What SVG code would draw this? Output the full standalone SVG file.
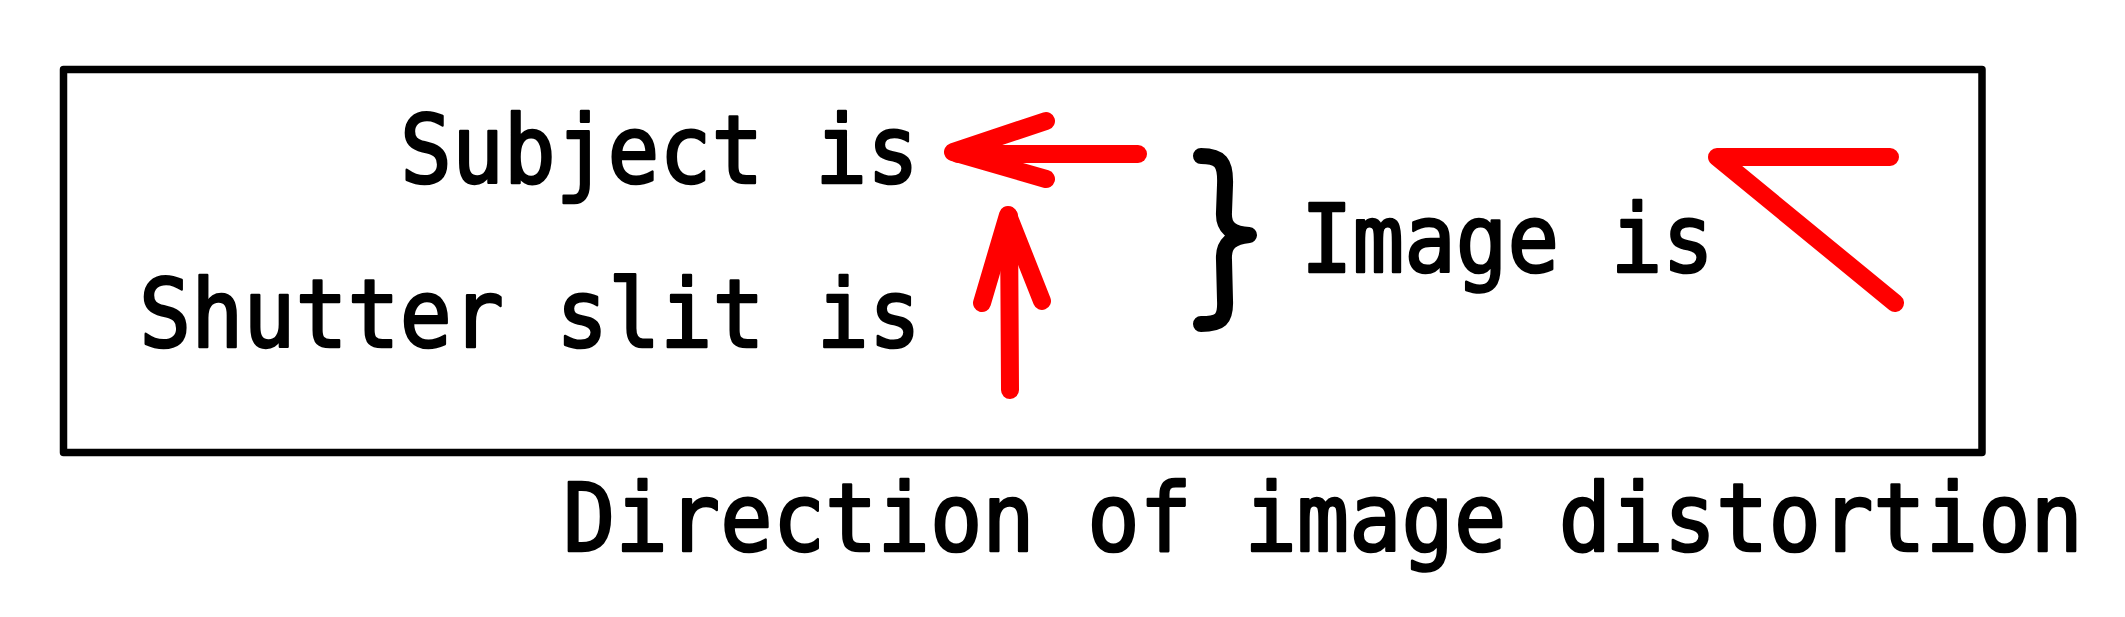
<svg xmlns="http://www.w3.org/2000/svg" width="2125" height="617" viewBox="0 0 2125 617">
<style>
.lbl{font-family:"DejaVu Sans Mono","Liberation Mono",monospace;font-size:95px;fill:#000;stroke:#000;stroke-width:2.6;stroke-linejoin:round}
.red{fill:none;stroke:#ff0000;stroke-width:18;stroke-linecap:round;stroke-linejoin:round}
.brace{fill:none;stroke:#000;stroke-width:16;stroke-linecap:round;stroke-linejoin:round}
</style>
<rect x="0" y="0" width="2125" height="617" fill="#ffffff"/>
<g id="frame">
<rect x="63.5" y="69.5" width="1918.5" height="383" fill="none" stroke="#000" stroke-width="7.5" stroke-linejoin="round"/>
</g>
<g id="subject">
<text class="lbl" x="400" y="183" textLength="519" lengthAdjust="spacingAndGlyphs">Subject is</text>
</g>
<g id="shutter">
<text class="lbl" x="139" y="347" textLength="782" lengthAdjust="spacingAndGlyphs">Shutter slit is</text>
</g>
<g id="brace">
<path class="brace" d="M1201,156 C1220,156 1226,162 1225,185 L1224,212 C1223,228 1232,234 1249,235 C1232,237 1223,243 1224,260 L1225,300 C1226,320 1220,324 1201,324"/>
</g>
<g id="image">
<text class="lbl" x="1301" y="272" textLength="413" lengthAdjust="spacingAndGlyphs">Image is</text>
</g>
<g id="direction">
<text class="lbl" x="563" y="551" textLength="1520" lengthAdjust="spacingAndGlyphs">Direction of image distortion</text>
</g>
<g id="connectors">
<path class="red" d="M1138,154 L958,154"/>
<path class="red" d="M1046,121 L953,152 L1046,179"/>
<path class="red" stroke-width="19" d="M1010,390 L1009,216"/>
<path class="red" d="M982,303 L1008,215 L1042,301"/>
<path class="red" stroke-width="20" d="M1890,157 L1717,157 L1895,303"/>
</g>
</svg>
